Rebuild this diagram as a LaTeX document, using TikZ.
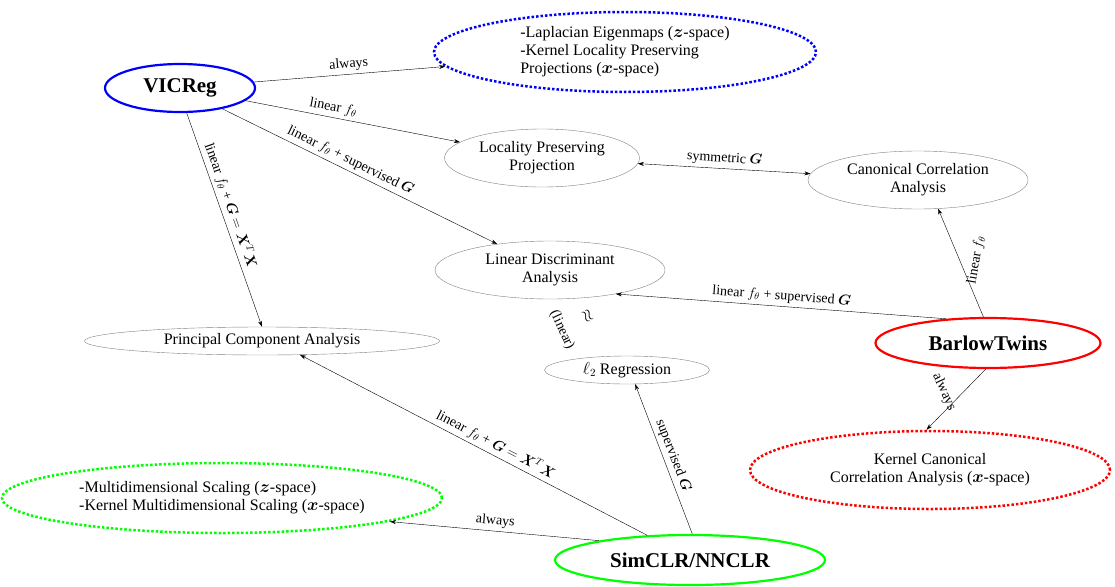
\documentclass[tikz,border=0pt]{standalone}
\usepackage{fontspec}
\usepackage{amsmath,bm}
\setmainfont{Liberation Serif}
\usetikzlibrary{shapes.geometric,arrows.meta}
\begin{document}
\begin{tikzpicture}[x=1pt,y=-1pt,
 el/.style={ellipse,draw=gray,inner sep=0pt,font=\fontsize{16}{18}\selectfont,align=center},
 big/.style={ellipse,line width=2.2pt,inner sep=0pt,font=\fontsize{21}{24}\selectfont\bfseries},
 dot/.style={ellipse,line width=2.5pt,dotted,inner sep=0pt,font=\fontsize{16}{18}\selectfont,align=left},
 ar/.style={-{Stealth[length=6pt,width=4pt]},thin},
 lb/.style={font=\fontsize{14}{16}\selectfont,sloped,above},
 fl/.style={font=\fontsize{14}{16}\selectfont}]
\useasboundingbox (0,0) rectangle (1115,586);
\node[big,draw=blue,minimum width=150,minimum height=48] (vic) at (180,88) {VICReg};
\node[dot,draw=blue,minimum width=382,minimum height=80] (lap) at (625,52) {-Laplacian Eigenmaps ($\bm z$-space)\\-Kernel Locality Preserving\\Projections ($\bm x$-space)};
\node[el,minimum width=195,minimum height=58] (lpp) at (542,158) {Locality Preserving\\Projection};
\node[el,minimum width=220,minimum height=58] (cca) at (918,180) {Canonical Correlation\\Analysis};
\node[el,minimum width=230,minimum height=58] (lda) at (550,270) {Linear Discriminant\\Analysis};
\node[el,minimum width=355,minimum height=28] (pca) at (262,341) {Principal Component Analysis};
\node[big,draw=red,minimum width=225,minimum height=50] (bt) at (988,343) {BarlowTwins};
\node[el,minimum width=165,minimum height=28] (l2) at (627,370) {$\ell_2$ Regression};
\node[dot,draw=red,align=center,minimum width=360,minimum height=78] (kcca) at (930,470) {Kernel Canonical\\Correlation Analysis ($\bm x$-space)};
\node[dot,draw=green,minimum width=440,minimum height=70] (mds) at (222,498) {-Multidimensional Scaling ($\bm z$-space)\\-Kernel Multidimensional Scaling ($\bm x$-space)};
\node[big,draw=green,minimum width=270,minimum height=50] (sim) at (690,560) {SimCLR/NNCLR};

\draw[ar] (vic) -- node[lb]{always} (lap);
\draw[ar] (vic) -- node[lb,pos=.4]{linear $f_\theta$} (lpp);
\draw[ar] (vic) -- node[lb,pos=.45]{linear $f_\theta$ + supervised $\bm G$} (lda);
\draw[ar] (vic.-75) -- node[lb,pos=.45]{linear $f_\theta$ + $\bm G=\bm X^T\bm X$} (pca.north);
\draw[{Stealth[length=6pt,width=4pt]}-{Stealth[length=6pt,width=4pt]},thin] (lpp) -- node[lb]{symmetric $\bm G$} (cca);
\draw[ar] (bt.100) -- (cca.-55);
\node[fl,rotate=80] (lbcca) at (976,260) {linear $f_\theta$};
\draw[ar] (bt.150) -- node[lb]{linear $f_\theta$ + supervised $\bm G$} (lda.-20);
\draw[ar] (bt.-95) -- (kcca.95);
\node[fl,rotate=-65] (lbk) at (944,392) {always};
\draw[ar] (sim.150) -- node[lb,pos=.45]{linear $f_\theta$ + $\bm G=\bm X^T\bm X$} (pca.-20);
\draw[ar] (sim.85) -- node[lb,pos=.5]{supervised $\bm G$} (l2.-60);
\draw[ar] (sim.168) -- node[lb]{always} (mds.-8);
\node[font=\fontsize{17}{18}\selectfont,rotate=-60] (approx) at (587,316) {$\approx$};
\node[fl,rotate=-65] (lin) at (562,330) {(linear)};
\end{tikzpicture}
\end{document}
